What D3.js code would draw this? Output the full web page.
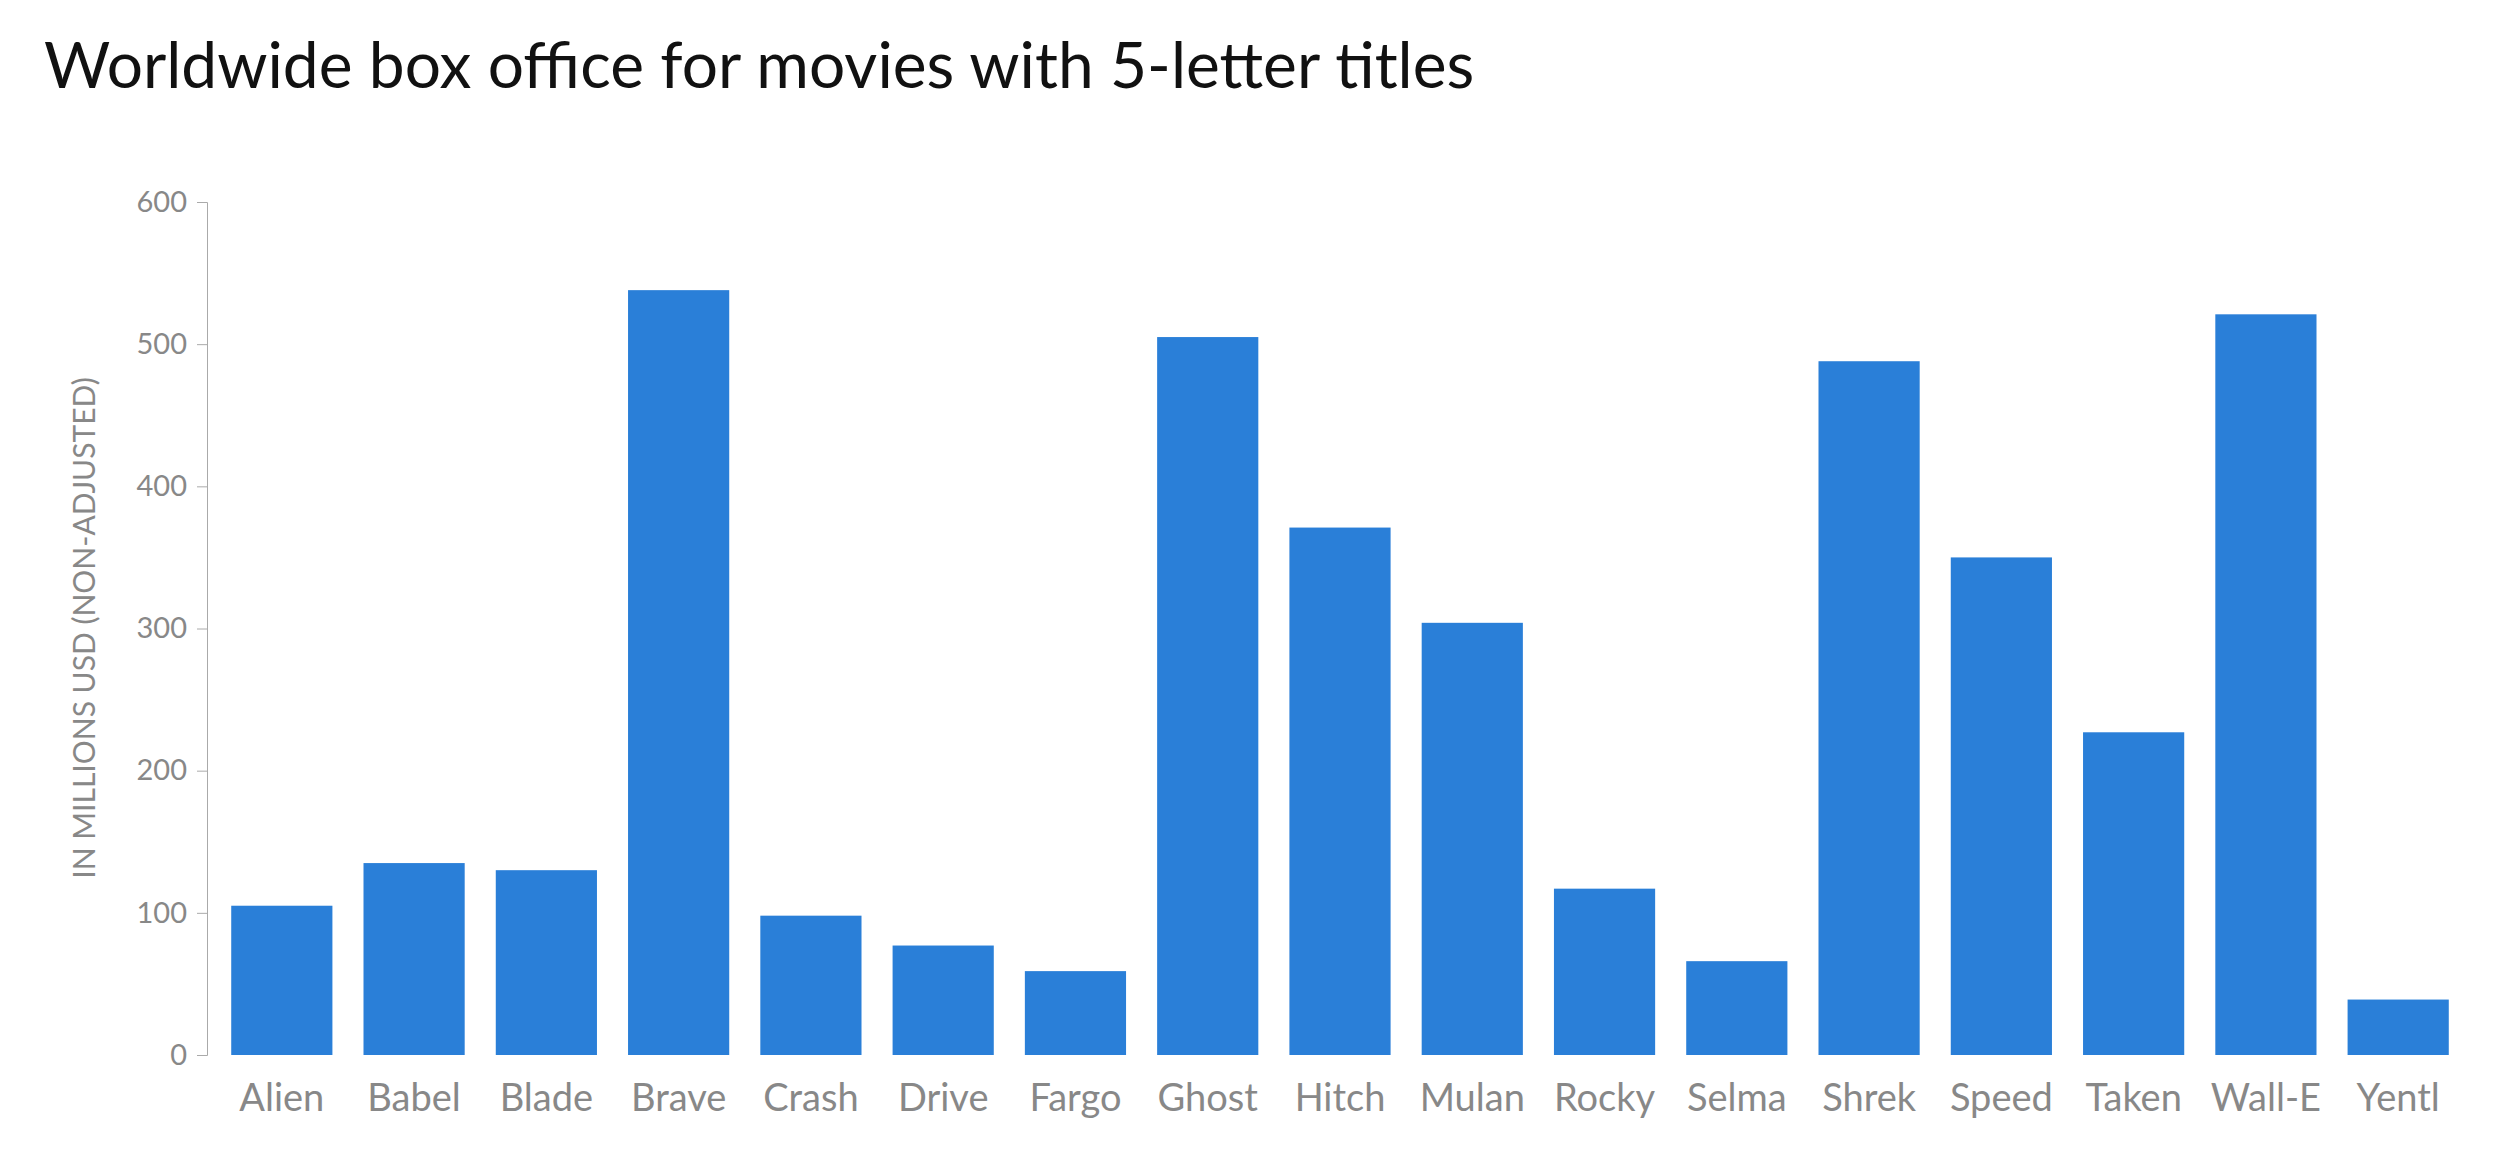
<!DOCTYPE html>
<html><head><meta charset="utf-8">
<script src="https://cdn.jsdelivr.net/npm/d3@7"></script>
<style>body{margin:0;background:#fff}</style></head>
<body><svg id="c" width="2500" height="1176"></svg>
<script>
const categories=["Alien","Babel","Blade","Brave","Crash","Drive","Fargo","Ghost","Hitch","Mulan","Rocky","Selma","Shrek","Speed","Taken","Wall-E","Yentl"];
const values=[105,135,130,538,98,77,59,505,371,304,117,66,488,350,227,521,39];
const yTicks=[0,100,200,300,400,500,600];
const svg=d3.select("#c");
const font="Lato, 'Open Sans', sans-serif";
const x=d3.scaleBand().domain(categories).range([218,2462]).paddingInner(0.235).paddingOuter(0.1);
const y=d3.scaleLinear().domain([0,600]).range([1055,202]);
svg.append("text").attr("x",44).attr("y",88).attr("font-family",font).attr("font-size",64).attr("fill","#111").text("Worldwide box office for movies with 5-letter titles");
svg.selectAll("rect").data(values).enter().append("rect")
 .attr("x",(d,i)=>x(categories[i])).attr("width",x.bandwidth())
 .attr("y",d=>y(d)).attr("height",d=>y(0)-y(d)).attr("fill","#2a7fd8");
const ya=svg.append("g").attr("transform","translate(207,0)").call(d3.axisLeft(y).tickValues(yTicks).tickSize(10).tickPadding(10));
ya.selectAll("text").attr("font-family",font).attr("font-size",29).attr("fill","#888");
ya.selectAll("line,path").attr("stroke","#aaa");
const xa=svg.append("g").attr("transform","translate(0,1055)").call(d3.axisBottom(x).tickSize(0).tickPadding(22));
xa.select("path").remove();
xa.selectAll("text").attr("font-family",font).attr("font-size",38).attr("fill","#888").attr("dy","0.9em");
svg.append("text").attr("transform","translate(95,628) rotate(-90)").attr("text-anchor","middle").attr("font-family",font).attr("font-size",30).attr("fill","#888").text("IN MILLIONS USD (NON-ADJUSTED)");
</script></body></html>
